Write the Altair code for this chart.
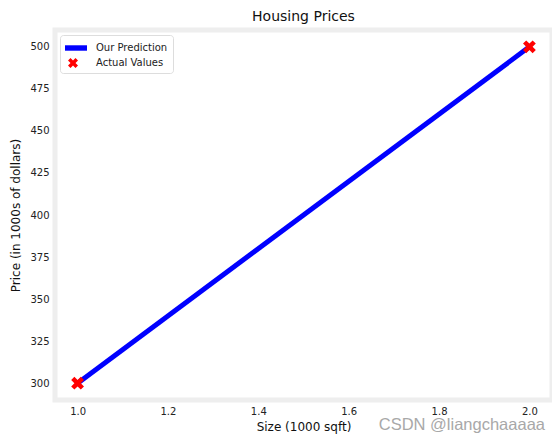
import altair as alt
import pandas as pd

# data
sizes = [1.0, 2.0]
prices = [300, 500]
pred_sizes = [1.0, 2.0]
pred_prices = [300, 500]

x_ticks = [1.0, 1.2, 1.4, 1.6, 1.8, 2.0]
y_ticks = [300, 325, 350, 375, 400, 425, 450, 475, 500]

actual = pd.DataFrame({'size': sizes, 'price': prices, 'series': 'Actual Values'})
pred = pd.DataFrame({'size': pred_sizes, 'price': pred_prices, 'series': 'Our Prediction'})

series_names = ['Our Prediction', 'Actual Values']
# filled bar for the line entry, fat filled X for the points
bar_path = 'M-1,-0.34H1.75V0.34H-1Z'
x_path = ('M-0.625,-0.3125L-0.3125,-0.625L0,-0.3125L0.3125,-0.625L0.625,-0.3125L0.3125,0'
          'L0.625,0.3125L0.3125,0.625L0,0.3125L-0.3125,0.625L-0.625,0.3125L-0.3125,0Z')

color_scale = alt.Scale(domain=series_names, range=['#0000ff', '#ff0000'])
shape_scale = alt.Scale(domain=series_names, range=[bar_path, x_path])

x_enc = alt.X('size:Q', title='Size (1000 sqft)',
              scale=alt.Scale(domain=[0.95, 2.05], nice=False, zero=False),
              axis=alt.Axis(values=x_ticks, format='.1f', titlePadding=5))
y_enc = alt.Y('price:Q', title='Price (in 1000s of dollars)',
              scale=alt.Scale(domain=[290, 510], nice=False, zero=False),
              axis=alt.Axis(values=y_ticks, titlePadding=7))

legend = alt.Legend(title=None, orient='top-left', offset=5,
                    symbolSize=256, symbolStrokeWidth=0,
                    strokeColor='#dddddd', fillColor='white', cornerRadius=3,
                    padding=5, labelFontSize=10, rowPadding=2, labelOffset=15)

line = alt.Chart(pred).mark_line(strokeWidth=5).encode(
    x=x_enc,
    y=y_enc,
    color=alt.Color('series:N', scale=color_scale, legend=legend),
)

points = alt.Chart(actual).mark_point(filled=True, size=420, opacity=1).encode(
    x=x_enc,
    y=y_enc,
    color=alt.Color('series:N', scale=color_scale, legend=legend),
    shape=alt.Shape('series:N', scale=shape_scale, legend=legend),
)

# watermark
mark_text = alt.Chart(pd.DataFrame({'t': ['CSDN @liangchaaaaa']})).mark_text(
    align='right', baseline='middle', fontSize=16.5, color='#a8a8a8',
    font='Liberation Sans'
).encode(text='t:N', x=alt.value(490), y=alt.value(395))

chart = alt.layer(line, points, mark_text).properties(
    width=497,
    height=370,
    title=alt.Title('Housing Prices', fontSize=14, fontWeight='normal', offset=6),
    autosize=alt.AutoSizeParams(type='none'),
    padding={'left': 47, 'top': 22, 'right': 0, 'bottom': 35},
).configure_view(
    stroke='#eeeeee', strokeWidth=5
).configure_axis(
    grid=False, domain=False, ticks=False, labelPadding=6,
    labelFont='DejaVu Sans', labelFontSize=10, labelColor='#222222',
    titleFont='DejaVu Sans', titleFontSize=12, titleFontWeight='normal', titleColor='#111111'
).configure_legend(
    labelFont='DejaVu Sans', labelColor='#222222'
).configure_title(
    font='DejaVu Sans', color='#111111'
)

chart.save("out.html", embed_options={"renderer": "svg", "actions": False})
